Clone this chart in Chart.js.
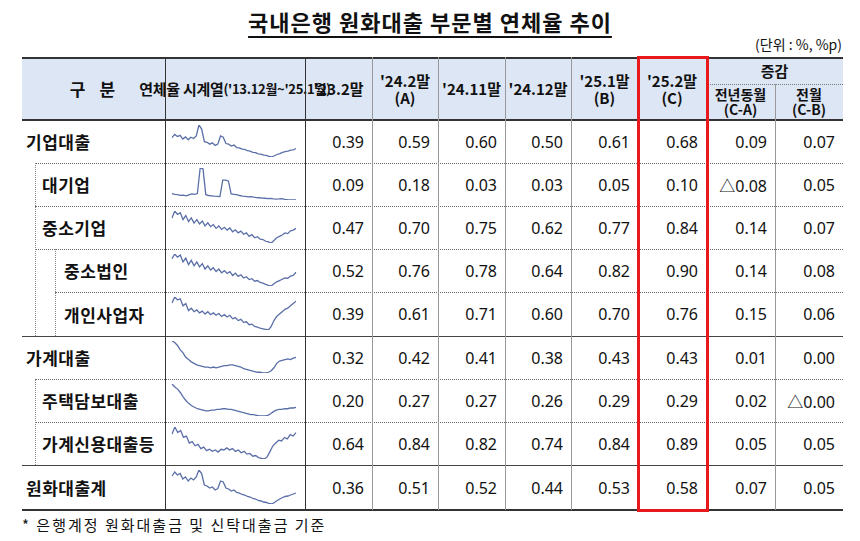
<!DOCTYPE html>
<html><head><meta charset="utf-8">
<script src="https://cdn.jsdelivr.net/npm/chart.js@4"></script>
<style>
body{margin:0;width:860px;height:541px;background:#fff;font-family:"Noto Sans CJK KR","Noto Sans",sans-serif;position:relative;overflow:hidden;color:#111}
.a{position:absolute}
.c{position:absolute;display:flex;align-items:center;justify-content:center;text-align:center;line-height:1.15}
.n{position:absolute;display:flex;align-items:center;justify-content:flex-end;font-size:16px;font-family:"Noto Sans","Noto Sans CJK KR";}
.lab{position:absolute;display:flex;align-items:center;font-weight:bold;font-size:17px;letter-spacing:0.5px}
.hl{position:absolute;height:0}
.vl{position:absolute;width:0}
</style></head><body>
<div class="c" style="left:0;width:860px;top:6px;height:32px;font-size:22px;font-weight:bold;letter-spacing:1px"><span style="text-decoration:underline;text-underline-offset:5px">국내은행 원화대출 부문별 연체율 추이</span></div>
<div class="a" style="right:18px;top:34px;font-size:14px">(단위 : %, %p)</div>
<div class="a" style="left:22px;top:58px;width:821px;height:62px;background:#dde6f4"></div>
<div id="root"></div>
<div class="a" style="left:22px;top:514px;font-size:15px;letter-spacing:2px">* 은행계정 원화대출금 및 신탁대출금 기준</div>
<script>
const categories=["기업대출","대기업","중소기업","중소법인","개인사업자","가계대출","주택담보대출","가계신용대출등","원화대출계"];
const periods=["'23.2말","'24.2말\n(A)","'24.11말","'24.12말","'25.1말\n(B)","'25.2말\n(C)"];
const diffLabels=["전년동월\n(C-A)","전월\n(C-B)"];
const v23_2=["0.39","0.09","0.47","0.52","0.39","0.32","0.20","0.64","0.36"];
const v24_2=["0.59","0.18","0.70","0.76","0.61","0.42","0.27","0.84","0.51"];
const v24_11=["0.60","0.03","0.75","0.78","0.71","0.41","0.27","0.82","0.52"];
const v24_12=["0.50","0.03","0.62","0.64","0.60","0.38","0.26","0.74","0.44"];
const v25_1=["0.61","0.05","0.77","0.82","0.70","0.43","0.29","0.84","0.53"];
const v25_2=["0.68","0.10","0.84","0.90","0.76","0.43","0.29","0.89","0.58"];
const dYoY=["0.09","△0.08","0.14","0.14","0.15","0.01","0.02","0.05","0.07"];
const dMoM=["0.07","0.05","0.07","0.08","0.06","0.00","△0.00","0.05","0.05"];
// sparkline series ('13.12 ~ '25.1, read approximately)
const sCorp=[0.95,1.05,0.98,1.02,0.90,0.97,0.88,0.96,0.92,1.00,1.35,1.22,0.82,0.80,0.74,0.78,0.70,0.74,1.00,0.96,0.76,0.74,0.68,0.71,0.63,0.62,0.58,0.57,0.53,0.52,0.48,0.47,0.43,0.42,0.39,0.38,0.35,0.33,0.37,0.41,0.44,0.48,0.50,0.52,0.55,0.56,0.60];
const sLarge=[0.42,0.38,0.36,0.32,0.33,0.29,0.35,0.40,0.38,0.42,1.90,1.85,0.36,0.31,0.29,0.27,0.26,0.25,1.20,1.20,1.15,0.40,0.38,0.36,0.31,0.27,0.26,0.23,0.25,0.21,0.19,0.18,0.16,0.15,0.13,0.14,0.11,0.10,0.11,0.13,0.09,0.07,0.06,0.05,0.06];
const sSme=[1.15,1.35,1.25,1.30,1.10,1.22,1.05,1.15,1.00,1.10,0.98,1.06,0.92,1.01,0.90,0.96,0.85,0.92,0.82,0.88,0.80,0.86,0.75,0.81,0.72,0.77,0.68,0.72,0.62,0.67,0.58,0.61,0.54,0.53,0.48,0.46,0.43,0.50,0.58,0.62,0.66,0.72,0.70,0.78,0.80,0.85];
const sSmeCorp=[1.30,1.45,1.35,1.42,1.20,1.32,1.12,1.25,1.08,1.20,1.05,1.15,0.98,1.08,0.95,1.02,0.90,0.98,0.86,0.93,0.84,0.90,0.78,0.85,0.75,0.80,0.70,0.74,0.65,0.68,0.60,0.62,0.56,0.54,0.50,0.47,0.45,0.52,0.58,0.62,0.66,0.70,0.69,0.76,0.78,0.88];
const sSoho=[0.75,0.85,0.80,0.82,0.70,0.74,0.62,0.66,0.60,0.63,0.58,0.61,0.56,0.60,0.55,0.58,0.54,0.57,0.52,0.55,0.51,0.54,0.48,0.50,0.45,0.47,0.42,0.43,0.38,0.39,0.35,0.34,0.32,0.31,0.30,0.29,0.35,0.45,0.52,0.56,0.60,0.64,0.66,0.70,0.74,0.78];
const sHh=[0.72,0.70,0.66,0.60,0.56,0.50,0.47,0.44,0.42,0.40,0.39,0.38,0.37,0.37,0.36,0.37,0.36,0.37,0.38,0.39,0.39,0.40,0.40,0.39,0.38,0.37,0.35,0.34,0.33,0.32,0.31,0.30,0.30,0.29,0.29,0.30,0.32,0.36,0.42,0.45,0.46,0.47,0.48,0.47,0.49,0.50];
const sMort=[0.62,0.58,0.55,0.50,0.44,0.39,0.35,0.32,0.30,0.28,0.27,0.26,0.25,0.25,0.26,0.26,0.27,0.27,0.28,0.28,0.27,0.27,0.26,0.25,0.24,0.23,0.22,0.21,0.20,0.20,0.19,0.18,0.18,0.18,0.19,0.21,0.24,0.26,0.27,0.27,0.28,0.28,0.29,0.29,0.30];
const sCred=[0.95,1.05,0.97,1.00,0.90,0.92,0.82,0.84,0.78,0.80,0.74,0.76,0.71,0.73,0.70,0.72,0.69,0.73,0.72,0.75,0.72,0.74,0.70,0.72,0.68,0.70,0.66,0.67,0.63,0.64,0.61,0.60,0.59,0.62,0.70,0.78,0.82,0.86,0.85,0.90,0.88,0.94,0.92,0.97];
const sTotal=[0.90,0.98,0.92,0.95,0.84,0.88,0.80,0.86,0.82,0.88,1.02,0.95,0.72,0.70,0.66,0.68,0.62,0.65,0.80,0.78,0.66,0.64,0.60,0.62,0.57,0.56,0.53,0.52,0.49,0.48,0.45,0.44,0.41,0.40,0.38,0.37,0.35,0.34,0.37,0.41,0.44,0.47,0.49,0.50,0.52,0.54,0.56];
const sparks=[sCorp,sLarge,sSme,sSmeCorp,sSoho,sHh,sMort,sCred,sTotal];

const root=document.getElementById('root');
function add(html){root.insertAdjacentHTML('beforeend',html);}
const colX=[22,165,305,372,438,505,571,638,706,775,843];
const rowY=[120,163,206,249,292,336,379,422,465,510];
const indent=[26,42,42,64,64,26,42,42,26];
// header
add(`<div class="c" style="left:22px;top:58px;width:143px;height:62px;font-weight:bold;font-size:17px;letter-spacing:14px;padding-left:12px;box-sizing:border-box">구분</div>`);
add(`<div class="c" style="left:165px;top:58px;width:140px;height:62px;font-weight:bold;font-size:15px;white-space:nowrap;letter-spacing:-0.3px">연체율 시계열<br><span style="font-size:13px">('13.12월~'25.1월)</span></div>`);
periods.forEach((p,i)=>add(`<div class="c" style="left:${colX[i+2]}px;top:58px;width:${colX[i+3]-colX[i+2]}px;height:62px;font-weight:bold;font-size:15px;white-space:pre-line">${p}</div>`));
add(`<div class="c" style="left:706px;top:58px;width:137px;height:26px;font-weight:bold;font-size:15px">증감</div>`);
diffLabels.forEach((p,i)=>add(`<div class="c" style="left:${colX[i+8]}px;top:84px;width:${colX[i+9]-colX[i+8]}px;height:36px;font-weight:bold;font-size:14px;white-space:pre-line;line-height:1.1">${p}</div>`));
// body
const cols=[v23_2,v24_2,v24_11,v24_12,v25_1,v25_2,dYoY,dMoM];
categories.forEach((c,r)=>{
  const y=rowY[r],h=rowY[r+1]-y;
  add(`<div class="lab" style="left:${indent[r]}px;top:${y}px;height:${h}px">${c}</div>`);
  cols.forEach((arr,k)=>add(`<div class="n" style="left:${colX[k+2]}px;top:${y}px;width:${colX[k+3]-colX[k+2]-8}px;height:${h}px">${arr[r]}</div>`));
  add(`<div class="a" style="left:170px;top:${y+3}px;width:128px;height:${h-7}px"><canvas id="sp${r}"></canvas></div>`);
});
// lines
function hl(x1,x2,y,st){add(`<div class="hl" style="left:${x1}px;top:${y}px;width:${x2-x1}px;border-top:${st}"></div>`);}
function vl(x,y1,y2,st){add(`<div class="vl" style="left:${x}px;top:${y1}px;height:${y2-y1}px;border-left:${st}"></div>`);}
hl(22,843,57,'2px solid #333');hl(22,843,119,'2px solid #333');
hl(706,843,84,'1px dotted #777');
hl(35,843,163,'1px dotted #666');hl(35,843,206,'1px dotted #666');hl(35,843,249,'1px dotted #666');hl(55,843,292,'1px dotted #666');
hl(22,843,336,'1px solid #444');hl(35,843,379,'1px dotted #666');hl(35,843,422,'1px dotted #666');
hl(22,843,465,'1px solid #444');hl(22,843,509,'2px solid #333');
vl(35,163,336,'1px dotted #888');vl(55,249,336,'1px dotted #888');vl(35,379,465,'1px dotted #888');
vl(165,57,510,'1px solid #333');vl(305,57,510,'1px solid #333');
[372,438,505,571,638,706].forEach(x=>vl(x,57,510,'1px solid #999'));
vl(775,84,510,'1px solid #999');
add(`<div class="a" style="left:637px;top:56px;width:66px;height:450px;border:3px solid #e8191c"></div>`);
// sparklines
sparks.forEach((d,r)=>{
  new Chart(document.getElementById('sp'+r),{type:'line',
    data:{labels:d.map((_,i)=>i),datasets:[{data:d,borderColor:'#5a6fa8',borderWidth:1.3,pointRadius:0,tension:0}]},
    options:{responsive:true,maintainAspectRatio:false,animation:false,plugins:{legend:{display:false},tooltip:{enabled:false}},
      layout:{padding:2},scales:{x:{display:false},y:{display:false,min:Math.min(...d),max:Math.max(...d)}}}});
});
</script>
</body></html>
